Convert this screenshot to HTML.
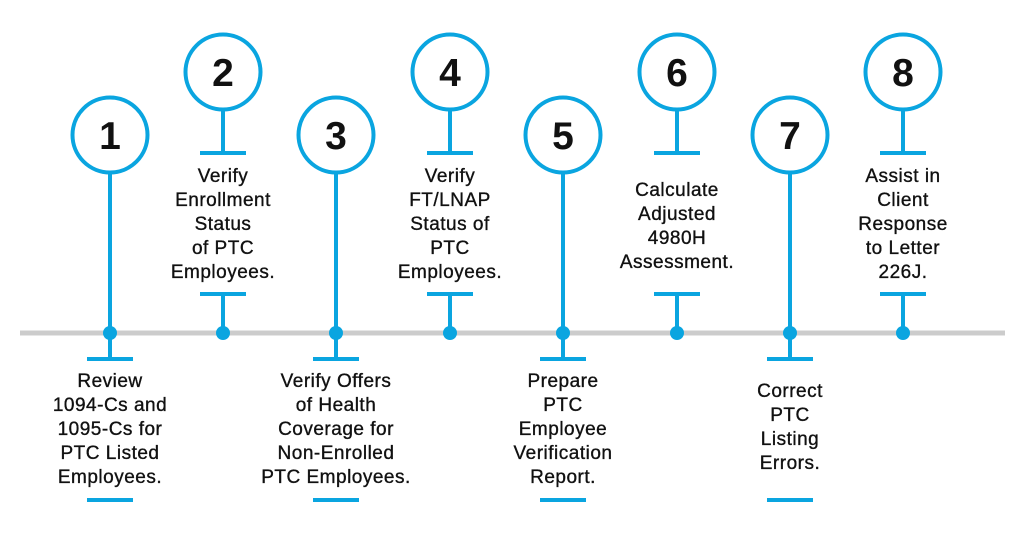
<!DOCTYPE html>
<html><head><meta charset="utf-8"><style>
html,body{margin:0;padding:0;background:#fff;}
svg{display:block;}
text{font-family:"Liberation Sans",sans-serif;fill:#111;}
.t{font-size:19px;text-anchor:middle;letter-spacing:0.5px;stroke:#111;stroke-width:0.35px;}
.n{font-size:39px;font-weight:bold;text-anchor:middle;}
</style></head><body>
<svg width="1024" height="534" viewBox="0 0 1024 534" xmlns="http://www.w3.org/2000/svg">
<rect x="20" y="330.5" width="985" height="5" fill="#cccccc"/>
<g stroke="#0aa5e0" stroke-width="4" fill="none">
<circle cx="110" cy="135" r="37.5"/><line x1="110" y1="173" x2="110" y2="359"/><line x1="87" y1="359" x2="133" y2="359"/><line x1="87" y1="500" x2="133" y2="500"/>
<circle cx="336" cy="135" r="37.5"/><line x1="336" y1="173" x2="336" y2="359"/><line x1="313" y1="359" x2="359" y2="359"/><line x1="313" y1="500" x2="359" y2="500"/>
<circle cx="563" cy="135" r="37.5"/><line x1="563" y1="173" x2="563" y2="359"/><line x1="540" y1="359" x2="586" y2="359"/><line x1="540" y1="500" x2="586" y2="500"/>
<circle cx="790" cy="135" r="37.5"/><line x1="790" y1="173" x2="790" y2="359"/><line x1="767" y1="359" x2="813" y2="359"/><line x1="767" y1="500" x2="813" y2="500"/>
<circle cx="223" cy="72" r="37.5"/><line x1="223" y1="110" x2="223" y2="153"/><line x1="200" y1="153" x2="246" y2="153"/><line x1="200" y1="294" x2="246" y2="294"/><line x1="223" y1="294" x2="223" y2="333"/>
<circle cx="450" cy="72" r="37.5"/><line x1="450" y1="110" x2="450" y2="153"/><line x1="427" y1="153" x2="473" y2="153"/><line x1="427" y1="294" x2="473" y2="294"/><line x1="450" y1="294" x2="450" y2="333"/>
<circle cx="677" cy="72" r="37.5"/><line x1="677" y1="110" x2="677" y2="153"/><line x1="654" y1="153" x2="700" y2="153"/><line x1="654" y1="294" x2="700" y2="294"/><line x1="677" y1="294" x2="677" y2="333"/>
<circle cx="903" cy="72" r="37.5"/><line x1="903" y1="110" x2="903" y2="153"/><line x1="880" y1="153" x2="926" y2="153"/><line x1="880" y1="294" x2="926" y2="294"/><line x1="903" y1="294" x2="903" y2="333"/>
</g>
<g fill="#0aa5e0">
<circle cx="110" cy="333" r="7"/><circle cx="223" cy="333" r="7"/><circle cx="336" cy="333" r="7"/><circle cx="450" cy="333" r="7"/>
<circle cx="563" cy="333" r="7"/><circle cx="677" cy="333" r="7"/><circle cx="790" cy="333" r="7"/><circle cx="903" cy="333" r="7"/>
</g>
<text class="n" x="110" y="149">1</text>
<text class="n" x="223" y="86">2</text>
<text class="n" x="336" y="149">3</text>
<text class="n" x="450" y="86">4</text>
<text class="n" x="563" y="149">5</text>
<text class="n" x="677" y="86">6</text>
<text class="n" x="790" y="149">7</text>
<text class="n" x="903" y="86">8</text>

<text class="t" x="110" y="387">Review</text>
<text class="t" x="110" y="411">1094-Cs and</text>
<text class="t" x="110" y="435">1095-Cs for</text>
<text class="t" x="110" y="459">PTC Listed</text>
<text class="t" x="110" y="483">Employees.</text>

<text class="t" x="336" y="387">Verify Offers</text>
<text class="t" x="336" y="411">of Health</text>
<text class="t" x="336" y="435">Coverage for</text>
<text class="t" x="336" y="459">Non-Enrolled</text>
<text class="t" x="336" y="483">PTC Employees.</text>

<text class="t" x="563" y="387">Prepare</text>
<text class="t" x="563" y="411">PTC</text>
<text class="t" x="563" y="435">Employee</text>
<text class="t" x="563" y="459">Verification</text>
<text class="t" x="563" y="483">Report.</text>

<text class="t" x="790" y="397">Correct</text>
<text class="t" x="790" y="421">PTC</text>
<text class="t" x="790" y="445">Listing</text>
<text class="t" x="790" y="469">Errors.</text>

<text class="t" x="223" y="182">Verify</text>
<text class="t" x="223" y="206">Enrollment</text>
<text class="t" x="223" y="230">Status</text>
<text class="t" x="223" y="254">of PTC</text>
<text class="t" x="223" y="278">Employees.</text>

<text class="t" x="450" y="182">Verify</text>
<text class="t" x="450" y="206">FT/LNAP</text>
<text class="t" x="450" y="230">Status of</text>
<text class="t" x="450" y="254">PTC</text>
<text class="t" x="450" y="278">Employees.</text>

<text class="t" x="677" y="196">Calculate</text>
<text class="t" x="677" y="220">Adjusted</text>
<text class="t" x="677" y="244">4980H</text>
<text class="t" x="677" y="268">Assessment.</text>

<text class="t" x="903" y="182">Assist in</text>
<text class="t" x="903" y="206">Client</text>
<text class="t" x="903" y="230">Response</text>
<text class="t" x="903" y="254">to Letter</text>
<text class="t" x="903" y="278">226J.</text>
</svg>
</body></html>
